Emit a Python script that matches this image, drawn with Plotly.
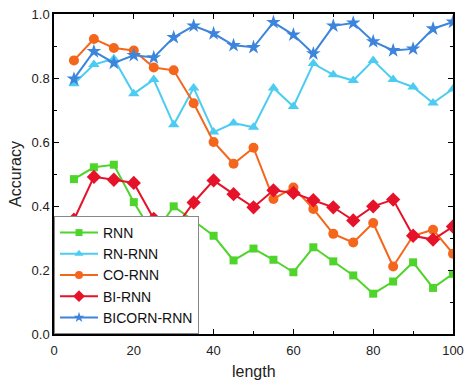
import plotly.graph_objects as go

lengths = [5, 10, 15, 20, 25, 30, 35, 40, 45, 50, 55, 60, 65, 70, 75, 80, 85, 90, 95, 100]
rnn = [0.484, 0.521, 0.529, 0.412, 0.31, 0.399, 0.354, 0.307, 0.230, 0.267,
       0.232, 0.193, 0.271, 0.227, 0.183, 0.126, 0.164, 0.224, 0.144, 0.188]
rn_rnn = [0.782, 0.842, 0.860, 0.751, 0.795, 0.654, 0.769, 0.631, 0.659, 0.646,
          0.769, 0.711, 0.845, 0.810, 0.792, 0.855, 0.795, 0.772, 0.722, 0.766]
co_rnn = [0.855, 0.922, 0.894, 0.886, 0.833, 0.824, 0.721, 0.600, 0.532, 0.582,
          0.422, 0.458, 0.391, 0.313, 0.286, 0.347, 0.211, 0.307, 0.326, 0.251]
bi_rnn = [0.357, 0.491, 0.482, 0.472, 0.360, 0.326, 0.411, 0.480, 0.437, 0.396,
          0.449, 0.441, 0.418, 0.396, 0.355, 0.399, 0.420, 0.307, 0.295, 0.336]
bicorn_rnn = [0.797, 0.883, 0.847, 0.871, 0.864, 0.927, 0.963, 0.939, 0.902, 0.896,
              0.974, 0.935, 0.876, 0.963, 0.972, 0.914, 0.886, 0.891, 0.954, 0.975]

series = [
    ("RNN", rnn, "#4ED42A", "square", 8, 7),
    ("RN-RNN", rn_rnn, "#4DCCF2", "triangle-up", 10, 8),
    ("CO-RNN", co_rnn, "#F5661D", "circle", 10, 8),
    ("BI-RNN", bi_rnn, "#E5122A", "diamond", 11, 9),
    ("BICORN-RNN", bicorn_rnn, "#3C84DC", "star", 11, 8),
]

fig = go.Figure()
for name, vals, color, sym, size, lsize in series:
    fig.add_trace(go.Scatter(
        x=lengths, y=vals, name=name, mode="lines+markers", showlegend=False,
        line=dict(color=color, width=2),
        marker=dict(symbol=sym, size=size, color=color, line=dict(width=0)),
    ))
for name, vals, color, sym, size, lsize in series:
    # legend-only entry with smaller marker like the reference
    fig.add_trace(go.Scatter(
        x=[None], y=[None], name=name, mode="lines+markers",
        line=dict(color=color, width=2),
        marker=dict(symbol=sym, size=lsize, color=color, line=dict(width=0)),
    ))

axis_common = dict(
    showline=True, linecolor="black", linewidth=1.5, mirror="ticks",
    ticks="inside", ticklen=5, tickwidth=1.2, tickcolor="black",
    showgrid=False, zeroline=False, automargin=False,
    tickfont=dict(size=13, color="#222"),
)
fig.update_xaxes(range=[0, 100], dtick=20, tick0=0, ticklabelstandoff=4,
                 minor=dict(ticks="inside", dtick=10, ticklen=3, tickcolor="black"),
                 **axis_common)
fig.update_yaxes(range=[0, 1.0], dtick=0.2, tick0=0, tickformat=".1f",
                 minor=dict(ticks="inside", dtick=0.1, ticklen=3, tickcolor="black"),
                 **axis_common)

fig.add_annotation(text="Accuracy", xref="paper", yref="paper", x=-0.098, y=0.5,
                   xanchor="center", yanchor="middle", textangle=-90, showarrow=False,
                   font=dict(size=16, color="#222"))
fig.add_annotation(text="length", xref="paper", yref="paper", x=0.5, y=-0.118,
                   xanchor="center", yanchor="middle", showarrow=False,
                   font=dict(size=16, color="#222"))

fig.update_layout(
    width=474, height=387,
    margin=dict(l=54, r=21, t=14, b=53),
    paper_bgcolor="white", plot_bgcolor="white",
    font=dict(family="Arial, Liberation Sans, sans-serif", color="#222"),
    legend=dict(x=0, y=0, xanchor="left", yanchor="bottom",
                bgcolor="white", bordercolor="#888", borderwidth=1,
                font=dict(size=14, color="#111"), tracegroupgap=0,
                itemwidth=38),
    showlegend=True,
)

fig.write_html("out.html", config={"displayModeBar": False},
               post_script="document.body.style.margin='0';document.body.style.overflow='hidden';")
